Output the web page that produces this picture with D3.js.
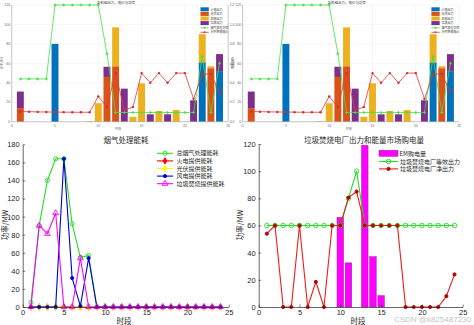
<!DOCTYPE html>
<html lang="zh">
<head>
<meta charset="utf-8">
<title>烟气处理能耗与垃圾焚烧电厂出力</title>
<script src="https://cdn.jsdelivr.net/npm/d3@7"></script>
<style>
  body { margin: 0; background: #fff; }
  svg { display: block; font-family: "Liberation Sans", Arial, sans-serif; }
  .cjk { font-family: "Noto Sans CJK SC", sans-serif; }
</style>
</head>
<body>
<div id="chart"></div>
<script>

// hours 1..24
var hours = d3.range(1, 25);

// top panels: stacked output bars (left axis) and two price-like lines (right axis)
var topBlue   = [0,0,0,0,80,0,0,0,0,0,0,0,0,0,0,0,0,0,0,0,0,61,0,52];
var topOrange = [14,0,0,0,0,0,0,0,0,0,46,57,0,0,0,0,0,0,0,0,0,0,55,0];
var topYellow = [0,0,0,0,0,0,0,0,0.6,19,0,40,0,5,39.5,0,11,0,12,0,0,29,2,0];
var topPurple = [17,0,0,0,0,0,0,0,0,0,10.5,0,34,0,0,7.6,0,7.6,0,0,22,0,0,17.5];
var topGreen  = [0.44,0.44,0.44,0.44,1.2,1.2,1.2,1.2,1.2,1.2,0.7,0.095,0.095,0.095,0.095,0.095,0.095,0.095,0.095,0.095,0.095,0.67,0.095,0.6];
var topRed    = [0.105,0.103,0.101,0.1,0.099,0.098,0.097,0.097,0.097,0.26,0.15,0.5,0.12,0.15,0.5,0.4,0.5,0.4,0.5,0.5,0.235,0.49,0.49,0.3];
var topBarNames  = ["火电出力", "光伏出力", "风电出力", "垃圾出力"];
var topLineNames = ["烟气处理功率", "分时购电电价"];

// bottom left: flue gas treatment energy
var gasTotal   = [5,90,140,164,164,92,55,57,0,0,0,0,0,0,0,0,0,0,0,0,0,0,0,0];
var gasThermal = [0,0,0,0,0,0,0,0,0,0,0,0,0,0,0,0,0,0,0,0,0,0,0,0];
var gasPV      = [0,0,0,0,0,0,0,0,0,0,0,0,0,0,0,0,0,0,0,0,0,0,0,0];
var gasWind    = [0,0,0,0,164,32,1,54,0,0,0,0,0,0,0,0,0,0,0,0,0,0,0,0];
var gasWaste   = [0,90,81,104,0,0,54,0,0,0,0,0,0,0,0,0,0,0,0,0,0,0,0,0];
var gasNames   = ["总烟气处理能耗", "火电提供能耗", "光伏提供能耗", "风电提供能耗", "垃圾焚烧提供能耗"];

// bottom right: plant output and market purchase
var emBuy      = [0,0,0,0,0,0,0,0,0,66,32.5,0,119,37,8.3,0,0,0,0,0,0,0,0,0];
var plantEq    = [60,60,60,60,60,60,60,60,60,60,80,100,60,60,60,60,60,60,60,60,60,60,60,60];
var plantNet   = [54,60,0,0,60,0,18.5,0,60,60,80.5,85,60,60,60,60,60,0,0,0,0,0,8,24];
var plantNames = ["EM购电量", "垃圾焚烧电厂等效出力", "垃圾焚烧电厂净出力"];

var barColors = ["#0072BD", "#D95319", "#EDB120", "#7E2F8E"];

var svg = d3.select("#chart").append("svg")
    .attr("width", 474)
    .attr("height", 325);

function symbolPath(type, size) {
  return d3.symbol().type(type).size(size)();
}

// small MATLAB style subplot, drawn twice
function topPanel(x0, showRight) {
  var x = d3.scaleLinear().domain([0, 25]).range([x0, x0 + 216.5]);
  var y = d3.scaleLinear().domain([0, 120]).range([121.7, 5]);
  var y2 = d3.scaleLinear().domain([0, 1.2]).range([121.7, 5]);
  var g = svg.append("g");

  // grid
  g.selectAll("line.gx").data(d3.range(0, 26, 5)).join("line")
      .attr("x1", d => x(d)).attr("x2", d => x(d))
      .attr("y1", y(0)).attr("y2", y(120))
      .attr("stroke", "#ececec").attr("stroke-width", 0.5);
  g.selectAll("line.gy").data(d3.range(0, 121, 20)).join("line")
      .attr("x1", x(0)).attr("x2", x(25))
      .attr("y1", d => y(d)).attr("y2", d => y(d))
      .attr("stroke", "#ececec").attr("stroke-width", 0.5);

  // stacked bars
  var rows = hours.map(function(h, i) {
    return {h: h, a: topBlue[i], b: topOrange[i], c: topYellow[i], d: topPurple[i]};
  });
  var layers = d3.stack().keys(["a", "b", "c", "d"])(rows);
  var bw = x(0.8) - x(0);
  g.selectAll("g.layer").data(layers).join("g")
      .attr("fill", (d, i) => barColors[i])
    .selectAll("rect").data(d => d).join("rect")
      .attr("x", d => x(d.data.h) - bw / 2)
      .attr("y", d => y(d[1]))
      .attr("width", bw)
      .attr("height", d => y(d[0]) - y(d[1]));

  // lines on the right axis
  var line = d3.line().x((d, i) => x(hours[i])).y(d => y2(d));
  g.append("path").datum(topGreen).attr("d", line)
      .attr("fill", "none").attr("stroke", "#44e044").attr("stroke-width", 0.8);
  g.selectAll("path.gm").data(topGreen).join("path")
      .attr("transform", (d, i) => "translate(" + x(hours[i]) + "," + y2(d) + ")")
      .attr("d", symbolPath(d3.symbolCross, 5))
      .attr("fill", "#44e044");
  g.append("path").datum(topRed).attr("d", line)
      .attr("fill", "none").attr("stroke", "#e8353a").attr("stroke-width", 0.8);
  g.selectAll("circle.rm").data(topRed).join("circle")
      .attr("cx", (d, i) => x(hours[i])).attr("cy", d => y2(d))
      .attr("r", 1.2).attr("fill", "#d42a2f");

  // axes
  var ax = g.append("g").attr("fill", "#666").style("font-size", "3.5px");
  ax.append("line").attr("x1", x(0)).attr("x2", x(25)).attr("y1", y(0)).attr("y2", y(0))
      .attr("stroke", "#999").attr("stroke-width", 0.5);
  ax.append("line").attr("x1", x(0)).attr("x2", x(0)).attr("y1", y(0)).attr("y2", y(120))
      .attr("stroke", "#999").attr("stroke-width", 0.5);
  ax.selectAll("text.xt").data(d3.range(0, 26, 5)).join("text")
      .attr("x", d => x(d)).attr("y", 127).attr("text-anchor", "middle").text(d => d);
  ax.selectAll("text.yt").data(d3.range(0, 121, 20)).join("text")
      .attr("x", x(0) - 1.5).attr("y", d => y(d) + 1.2).attr("text-anchor", "end").text(d => d);
  ax.append("text").attr("class", "cjk").attr("x", x(12.5) - 2).attr("y", 129.5)
      .attr("text-anchor", "middle").style("font-size", "3px").text("时段");
  ax.append("text").attr("class", "cjk")
      .attr("transform", "translate(" + (x0 - 8.5) + ",63) rotate(-90)")
      .attr("text-anchor", "middle").style("font-size", "3px").text("功率/MW");
  if (showRight) {
    ax.append("line").attr("x1", x(25)).attr("x2", x(25)).attr("y1", y(0)).attr("y2", y(120))
        .attr("stroke", "#999").attr("stroke-width", 0.5);
    ax.selectAll("text.rt").data(d3.range(0, 1.21, 0.2)).join("text")
        .attr("x", x(25) + 1.5).attr("y", d => y2(d) + 1.2).text(d => d3.format(".1f")(d));
    ax.append("text").attr("class", "cjk")
        .attr("transform", "translate(" + (x(25) + 6) + ",63) rotate(-90)")
        .attr("text-anchor", "middle").style("font-size", "3px").text("电价/元");
  }
  g.append("text").attr("class", "cjk").attr("x", x(12.5) - 4).attr("y", 4)
      .attr("text-anchor", "middle").style("font-size", "3.5px").attr("fill", "#333")
      .text("各机组出力，电价与功率");

  // legend
  var lx = x(21.8), lg = g.append("g").attr("class", "cjk").style("font-size", "3px").attr("fill", "#333");
  topBarNames.forEach(function(n, i) {
    lg.append("rect").attr("x", lx).attr("y", 7.3 + i * 4.6).attr("width", 8.3).attr("height", 4)
        .attr("fill", barColors[i]);
    lg.append("text").attr("x", lx + 10).attr("y", 10.5 + i * 4.6).text(n);
  });
  [["#44e044", topLineNames[0]], ["#e8353a", topLineNames[1]]].forEach(function(p, i) {
    var yy = 27.8 + i * 4.5;
    lg.append("line").attr("x1", lx).attr("x2", lx + 8.3).attr("y1", yy).attr("y2", yy)
        .attr("stroke", p[0]).attr("stroke-width", 0.8);
    lg.append("circle").attr("cx", lx + 4.15).attr("cy", yy).attr("r", 1).attr("fill", p[0]);
    lg.append("text").attr("x", lx + 10).attr("y", yy + 1).text(p[1]);
  });
}

topPanel(11.7, true);
topPanel(242.6, false);

// shared axis styling for the lower panels
function styleAxis(sel) {
  sel.select(".domain").attr("stroke", "#262626").attr("stroke-width", 0.7);
  sel.selectAll(".tick line").attr("stroke", "#262626").attr("stroke-width", 0.6);
  sel.selectAll(".tick text").attr("fill", "#262626").style("font-size", "7.5px");
}

function drawMarks(g, x, y, values, color, marker) {
  var line = d3.line().x((d, i) => x(hours[i])).y(d => y(d));
  g.append("path").datum(values).attr("d", line)
      .attr("fill", "none").attr("stroke", color).attr("stroke-width", 1.1);
  g.selectAll(null).data(values).join("path")
      .attr("transform", (d, i) => "translate(" + x(hours[i]) + "," + y(d) + ")")
      .attr("d", marker.d)
      .attr("fill", marker.fill)
      .attr("stroke", marker.stroke)
      .attr("stroke-width", 0.9);
}

// ---- bottom left ----
var xBL = d3.scaleLinear().domain([0, 25]).range([22.7, 228.7]);
var yBL = d3.scaleLinear().domain([0, 180]).range([307, 144.3]);
var gBL = svg.append("g");

var gasColors = ["#22e022", "#ff0000", "#ffff00", "#0000cc", "#ff00ff"];
var gasMarkers = [
  {d: symbolPath(d3.symbolCircle, 14), fill: "none", stroke: gasColors[0]},
  {d: symbolPath(d3.symbolDiamond, 12), fill: gasColors[1], stroke: gasColors[1]},
  {d: symbolPath(d3.symbolDiamond, 12), fill: gasColors[2], stroke: gasColors[2]},
  {d: symbolPath(d3.symbolCircle, 8), fill: gasColors[3], stroke: gasColors[3]},
  {d: symbolPath(d3.symbolTriangle, 14), fill: "none", stroke: gasColors[4]}
];
[gasTotal, gasThermal, gasPV, gasWind, gasWaste].forEach(function(s, i) {
  drawMarks(gBL, xBL, yBL, s, gasColors[i], gasMarkers[i]);
});

gBL.append("g").attr("transform", "translate(0,307)")
    .call(d3.axisBottom(xBL).tickValues(d3.range(0, 26, 5)).tickSizeInner(-2.5).tickSizeOuter(0).tickPadding(3))
    .call(styleAxis);
gBL.append("g").attr("transform", "translate(22.7,0)")
    .call(d3.axisLeft(yBL).tickValues(d3.range(0, 181, 20)).tickSizeInner(-2.5).tickSizeOuter(0).tickPadding(3))
    .call(styleAxis);

gBL.append("text").attr("class", "cjk").attr("x", 126).attr("y", 143)
    .attr("text-anchor", "middle").style("font-size", "7.5px").attr("fill", "#262626").text("烟气处理能耗");
gBL.append("text").attr("class", "cjk").attr("x", 124).attr("y", 324)
    .attr("text-anchor", "middle").style("font-size", "7.5px").attr("fill", "#262626").text("时段");
gBL.append("text").attr("class", "cjk").attr("transform", "translate(7.5,225) rotate(-90)")
    .attr("text-anchor", "middle").style("font-size", "7.5px").attr("fill", "#262626").text("功率/MW");

var legBL = gBL.append("g").attr("class", "cjk").style("font-size", "6px").attr("fill", "#262626");
gasNames.forEach(function(n, i) {
  var yy = 153.3 + i * 7.6;
  legBL.append("line").attr("x1", 157).attr("x2", 173).attr("y1", yy).attr("y2", yy)
      .attr("stroke", gasColors[i]).attr("stroke-width", 1.1);
  legBL.append("path").attr("transform", "translate(165," + yy + ")")
      .attr("d", gasMarkers[i].d).attr("fill", gasMarkers[i].fill)
      .attr("stroke", gasMarkers[i].stroke).attr("stroke-width", 0.9);
  legBL.append("text").attr("x", 176.5).attr("y", yy + 2.1).text(n);
});

// ---- bottom right ----
var xBR = d3.scaleLinear().domain([0, 25]).range([258.7, 462.7]);
var yBR = d3.scaleLinear().domain([0, 120]).range([307, 144]);
var gBR = svg.append("g");
var bwBR = xBR(0.8) - xBR(0);

gBR.selectAll("rect.em").data(emBuy).join("rect")
    .attr("x", (d, i) => xBR(hours[i]) - bwBR / 2)
    .attr("y", d => yBR(d))
    .attr("width", bwBR)
    .attr("height", d => yBR(0) - yBR(d))
    .attr("fill", "#ff00ff")
    .attr("stroke", d => d > 0 ? "#9a1a9a" : "none")
    .attr("stroke-width", 0.5);

var eqMarker = {d: symbolPath(d3.symbolCircle, 16), fill: "none", stroke: "#22e022"};
var netMarker = {d: symbolPath(d3.symbolCircle, 8), fill: "#c00000", stroke: "#b00000"};
drawMarks(gBR, xBR, yBR, plantEq, "#22e022", eqMarker);
drawMarks(gBR, xBR, yBR, plantNet, "#ee1c1c", netMarker);

gBR.append("g").attr("transform", "translate(0,307)")
    .call(d3.axisBottom(xBR).tickValues(d3.range(0, 26, 5)).tickSizeInner(-2.5).tickSizeOuter(0).tickPadding(3))
    .call(styleAxis);
gBR.append("g").attr("transform", "translate(258.7,0)")
    .call(d3.axisLeft(yBR).tickValues(d3.range(0, 121, 20)).tickSizeInner(-2.5).tickSizeOuter(0).tickPadding(3))
    .call(styleAxis);

gBR.append("text").attr("class", "cjk").attr("x", 364).attr("y", 143)
    .attr("text-anchor", "middle").style("font-size", "7.5px").attr("fill", "#262626")
    .text("垃圾焚烧电厂出力和能量市场购电量");
gBR.append("text").attr("class", "cjk").attr("x", 358).attr("y", 324)
    .attr("text-anchor", "middle").style("font-size", "7.5px").attr("fill", "#262626").text("时段");
gBR.append("text").attr("class", "cjk").attr("transform", "translate(243,225) rotate(-90)")
    .attr("text-anchor", "middle").style("font-size", "7.5px").attr("fill", "#262626").text("功率/MW");

var legBR = gBR.append("g").attr("class", "cjk").style("font-size", "6px").attr("fill", "#262626");
legBR.append("rect").attr("x", 379).attr("y", 150.3).attr("width", 19).attr("height", 6)
    .attr("fill", "#ff00ff").attr("stroke", "#9a1a9a").attr("stroke-width", 0.5);
legBR.append("text").attr("x", 399.5).attr("y", 155.6).text(plantNames[0]);
[[eqMarker, "#22e022"], [netMarker, "#ee1c1c"]].forEach(function(p, i) {
  var yy = 161.5 + i * 7.4;
  legBR.append("line").attr("x1", 379).attr("x2", 398).attr("y1", yy).attr("y2", yy)
      .attr("stroke", p[1]).attr("stroke-width", 1.1);
  legBR.append("path").attr("transform", "translate(388.5," + yy + ")")
      .attr("d", p[0].d).attr("fill", p[0].fill).attr("stroke", p[0].stroke).attr("stroke-width", 0.9);
  legBR.append("text").attr("x", 400).attr("y", yy + 2.1).text(plantNames[i + 1]);
});

// watermark
svg.append("text").attr("x", 471).attr("y", 322).attr("text-anchor", "end")
    .style("font-size", "8px").attr("fill", "#c4c4c8").text("CSDN @k825487230");

</script>
</body>
</html>
